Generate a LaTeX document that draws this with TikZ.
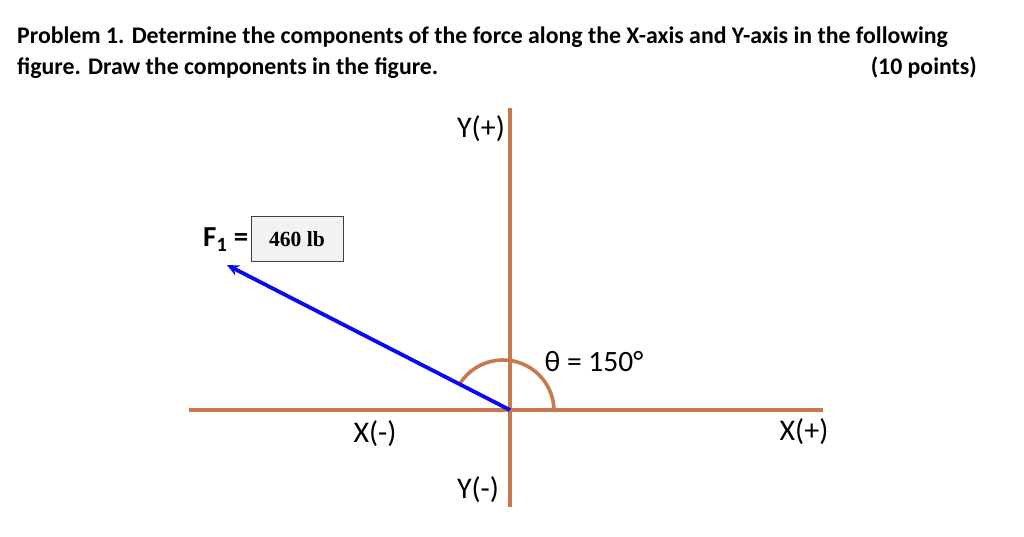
\documentclass[tikz,border=0pt]{standalone}
\usepackage{fontspec}
\setmainfont{Carlito}
\newfontfamily\timesfont{Liberation Serif}
\usetikzlibrary{arrows.meta}
\definecolor{axisbrown}{RGB}{200,122,78}
\definecolor{forceblue}{RGB}{10,10,240}
\tikzset{
  axisline/.style={draw=axisbrown, line width=3.6pt},
  axislabel/.style={inner sep=0pt, font=\fontsize{30}{36}\selectfont},
  titletext/.style={inner sep=0pt, font=\fontsize{23.8}{28}\selectfont\bfseries}
}
\begin{document}
\begin{tikzpicture}[x=1pt, y=1pt] % <- 1 unit = 1 pixel
   \useasboundingbox (0,0) rectangle (1024,536);
   % Problem text
   \node[titletext, anchor=base west] (line1) at (17,492.7)
      {Problem 1. Determine the components of the force along the X-axis and Y-axis in the following};
   \node[titletext, anchor=base west] (line2) at (17,461.7)
      {figure. Draw the components in the figure.};
   \node[titletext, anchor=base east] (points) at (977,461.7) {(10 points)};
   % Coordinate system axis
   \coordinate (O) at (510,126);
   \coordinate (xneg) at (189,126);
   \coordinate (xpos) at (823,126);
   \coordinate (ypos) at (510,428);
   \coordinate (yneg) at (510,29);
   \draw [axisline] (xneg) -- (xpos);
   \draw [axisline] (yneg) -- (ypos);
   \node[axislabel] (Ypos) at (481,407) {Y(+)};
   \node[axislabel] (Yneg) at (478,46) {Y(-)};
   \node[axislabel] (Xneg) at (375,102) {X(-)};
   \node[axislabel] (Xpos) at (804,104) {X(+)};
   % Angle
   \coordinate (arcstart) at (554,125);
   \draw [draw=axisbrown, line width=3.6pt] (arcstart) arc [start angle=0, end angle=148, radius=51];
   \node[axislabel, font=\fontsize{29.5}{34}\selectfont] (theta) at (594,174) {θ = 150°};
   % Force
   \coordinate (F1tip) at (227,271);
   \draw [forceblue, line width=3.8pt, -{Stealth[length=12pt, width=11pt]}] (O) -- (F1tip);
   \node[inner sep=0pt, anchor=base west, font=\fontsize{29}{34}\selectfont\bfseries] (F1) at (203,289) {F\textsubscript{1} =};
   \node[draw=black!75, fill=black!5, line width=1pt, minimum width=92, minimum height=44,
         font=\fontsize{21.6}{26}\selectfont\timesfont\bfseries] (F1val) at (297,297) {460 lb};
\end{tikzpicture}
\end{document}
